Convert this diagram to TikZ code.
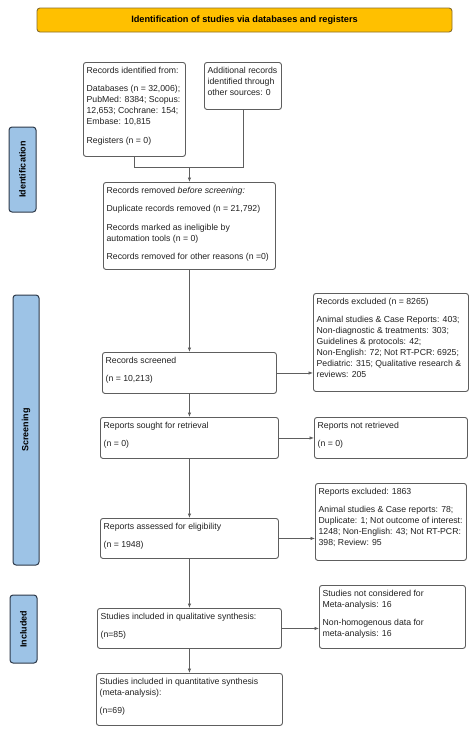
\documentclass[tikz,border=0pt]{standalone}
\usepackage{fontspec}
\setmainfont{Liberation Sans}
\usetikzlibrary{arrows.meta}
\definecolor{boxline}{HTML}{5E5E5E}
\definecolor{txt}{HTML}{222222}
\definecolor{titlefill}{HTML}{FFC000}
\definecolor{titleline}{HTML}{8A6E2A}
\definecolor{sidefill}{HTML}{9DC3E6}
\definecolor{sideline}{HTML}{2E3A4A}
\tikzset{
  box/.style={draw=boxline, line width=0.9pt, rounded corners=2.5pt, fill=white,
    inner xsep=0pt, inner ysep=4.5pt, anchor=north west, text=txt,
    font=\fontsize{8.7}{11}\selectfont},
  titlebox/.style={draw=titleline, line width=0.9pt, rounded corners=3pt, fill=titlefill,
    minimum width=415pt, minimum height=24pt, inner sep=0pt, text=black,
    font=\fontsize{9.2}{11}\selectfont\bfseries},
  sidebar/.style={draw=sideline, line width=1pt, rounded corners=3pt, fill=sidefill,
    rotate=90, inner sep=0pt, text=black, font=\fontsize{9}{10}\selectfont\bfseries},
  link/.style={draw=boxline, line width=0.8pt},
  arrow/.style={link, -{Latex[length=4.5pt,width=3.5pt]}}
}
\newcommand\pgap{\par\vspace{7.5pt}}
\newcommand\flowbox[5]{\node[box, minimum width=#3pt, minimum height=#4pt] (#1) at (#2)
  {\parbox[c][\dimexpr#4pt-9pt\relax][t]{#3pt}{\raggedright\leftskip=3.2pt #5}};}
\begin{document}
\begin{tikzpicture}[x=1pt,y=-1pt]
\useasboundingbox (0,0) rectangle (474,732);
\fill[white] (0,0) rectangle (474,732);

\node[titlebox] (title) at (244.5,20) {Identification of studies via databases and registers};

\node[sidebar, minimum width=85pt, minimum height=27pt] (sid) at (22.5,169.5) {Identification};
\node[sidebar, minimum width=270pt, minimum height=26pt] (sscr) at (26,430) {Screening};
\node[sidebar, minimum width=68pt, minimum height=27pt] (sinc) at (23.5,629) {Included};

\flowbox{b1}{83,62}{102}{94}{Records identified from:\pgap
Databases (n = 32,006);\\ PubMed: 8384; Scopus:\\ 12,653; Cochrane: 154;\\ Embase: 10,815\pgap
Registers (n = 0)}
\flowbox{b2}{204,62}{77}{47}{Additional records\\ identified through\\ other sources: 0}
\flowbox{b3}{103,182}{172}{87}{Records removed \textit{before screening:}\pgap
Duplicate records removed (n = 21,792)\pgap
Records marked as ineligible by\\ automation tools (n = 0)\pgap
Records removed for other reasons (n =0)}
\flowbox{b4}{102,352}{174}{41}{Records screened\pgap (n = 10,213)}
\flowbox{b5}{313,293}{155}{98}{Records excluded (n = 8265)\pgap
Animal studies \& Case Reports: 403;\\ Non-diagnostic \& treatments: 303;\\ Guidelines \& protocols: 42;\\ Non-English: 72; Not RT-PCR: 6925;\\ Pediatric: 315; Qualitative research \&\\ reviews: 205}
\flowbox{b6}{100,417}{178}{41}{Reports sought for retrieval\pgap (n = 0)}
\flowbox{b7}{314,417}{153}{41}{Reports not retrieved\pgap (n = 0)}
\flowbox{b8}{315,483}{151}{77}{Reports excluded: 1863\pgap
Animal studies \& Case reports: 78;\\ Duplicate: 1; Not outcome of interest:\\ 1248; Non-English: 43; Not RT-PCR:\\ 398; Review: 95}
\flowbox{b9}{100,518}{178}{40}{Reports assessed for eligibility\pgap (n = 1948)}
\flowbox{b10}{97,608}{184}{40}{Studies included in qualitative synthesis:\pgap (n=85)}
\flowbox{b11}{319,585}{146}{63}{Studies not considered for\\ Meta-analysis: 16\pgap
Non-homogenous data for\\ meta-analysis: 16}
\flowbox{b12}{96,673}{186}{52}{Studies included in quantitative synthesis\\ (meta-analysis):\pgap (n=69)}

\coordinate (j) at (b3.north |- 0,167);
\draw[link] (b1.south) -- (b1.south |- j) -- (b2.south |- j) -- (b2.south);
\draw[arrow] (j) -- (b3.north);
\draw[arrow] (b3.south) -- (b4.north);
\draw[arrow] (b4.east) -- (b4.east -| b5.west);
\draw[arrow] (b4.south) -- (b6.north);
\draw[arrow] (b6.east) -- (b6.east -| b7.west);
\draw[arrow] (b6.south) -- (b9.north);
\draw[arrow] (b9.east) -- (b9.east -| b8.west);
\draw[arrow] (b9.south) -- (b10.north);
\draw[arrow] (b10.east) -- (b10.east -| b11.west);
\draw[arrow] (b10.south) -- (b12.north);
\end{tikzpicture}
\end{document}
